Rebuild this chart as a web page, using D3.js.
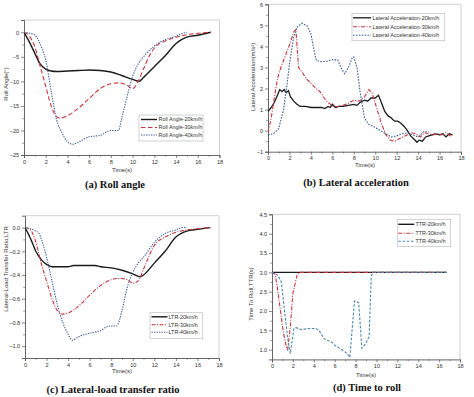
<!DOCTYPE html>
<html><head><meta charset="utf-8">
<script src="https://cdn.jsdelivr.net/npm/d3@7/dist/d3.min.js"></script>
<style>body{margin:0;background:#fff}svg{display:block}</style>
</head><body>
<script>
// ---------- DATA ----------
const xTicks = [0,2,4,6,8,10,12,14,16,18];
const legendA = ["Roll Angle-20km/h","Roll Angle-30km/h","Roll Angle-40km/h"];
const legendB = ["Lateral Acceleration-20km/h","Lateral Acceleration-30km/h","Lateral Acceleration-40km/h"];
const legendC = ["LTR-20km/h","LTR-30km/h","LTR-40km/h"];
const legendD = ["TTR-20km/h","TTR-30km/h","TTR-40km/h"];
const titles = ["(a) Roll angle","(b) Lateral acceleration","(c) Lateral-load transfer ratio","(d) Time to roll"];
const yLabels = ["Roll Angle(°)","Lateral Acceleration(m/s²)","Lateral-Load Transfer Ratio,LTR","Time To Roll,TTR(s)"];
const yTicksA = [0,-5,-10,-15,-20,-25];
const yTicksB = [-1,0,1,2,3,4,5,6];
const yTicksC = [0,-0.2,-0.4,-0.6,-0.8,-1.0];
const yTicksD = [1.0,1.5,2.0,2.5,3.0,3.5,4.0,4.5];

// (a) roll angle
const rollT20 = [0,0.5,1,1.5,2,2.5,3,4,5,6,7,8,9,10,10.6,11,12,13,14,14.5,15,16,17.2];
const roll20  = [0,-2,-4.3,-6.5,-7.5,-7.9,-8,-7.9,-7.8,-7.7,-7.8,-8.1,-8.8,-9.6,-10,-9.2,-7,-4.8,-2.3,-1.5,-1,-0.6,0];
const rollT30 = [0,0.5,1,1.5,2,2.5,3,3.3,4,5,6,7,8,8.7,9.5,10,10.5,11,11.5,12,13,14,15,16,17.2];
const roll30  = [0,-0.8,-3,-7,-11,-15,-17.2,-17.5,-17,-15.5,-13.5,-11.5,-10.5,-10.3,-10.8,-11.5,-10,-7.5,-5,-3.2,-1.8,-1,-0.5,-0.2,0];
const rollT40 = [0,0.5,1,1.3,1.6,2,2.5,3,3.5,4,4.5,5,6,7,8,8.7,9,9.5,10,10.5,11,12,13,14,14.5,15];
const roll40  = [0,-0.2,-0.5,-1.5,-3,-5.6,-12,-17.8,-20.5,-22.3,-22.8,-22.4,-21.3,-21,-20,-20,-17.5,-13,-9,-6.5,-5,-2.8,-1.5,-0.8,-0.3,0];

// (b) lateral acceleration
const accT20 = [0,0.3,0.6,0.9,1.1,1.3,1.5,1.7,1.9,2.1,2.4,2.7,3,3.5,4,4.5,5,5.3,5.6,5.8,6,6.3,6.6,7,7.5,8,8.3,8.6,9,9.3,9.6,10,10.3,10.6,10.9,11.2,11.5,11.8,12.1,12.4,12.7,13,13.3,13.6,13.9,14.1,14.4,14.7,15,15.3,15.6,16,16.3,16.6,16.9,17.2];
const acc20  = [0.9,1.1,1.35,1.7,1.95,1.85,1.95,1.8,1.9,1.6,1.4,1.25,1.15,1.15,1.1,1.1,1.1,1.05,1.15,1.1,1.25,1.1,1.15,1.15,1.2,1.25,1.2,1.35,1.45,1.4,1.55,1.55,1.68,1.3,0.9,0.7,0.6,0.45,0.45,0.35,0.2,0.0,-0.25,-0.4,-0.55,-0.45,-0.5,-0.3,-0.25,-0.2,-0.15,-0.2,-0.15,-0.3,-0.15,-0.2];
const accT30 = [0,0.3,0.6,0.9,1.2,1.5,1.8,2.1,2.4,2.6,2.85,3.15,3.6,4,4.5,4.85,5.45,6.1,6.5,7,7.5,8,8.5,9,9.4,9.7,10,10.3,10.6,11,11.4,11.8,12.2,12.6,13,13.4,13.8,14.2,14.6,15,15.4,15.8,16.2,16.6,17,17.2];
const acc30  = [-0.1,0.6,1.6,2.5,3.0,3.4,3.8,4.2,4.7,4.8,3.0,2.8,2.45,2.25,2.0,1.85,1.4,1.15,1.15,1.2,1.3,1.45,1.4,1.6,1.95,1.8,1.3,0.8,0.3,-0.2,-0.45,-0.5,-0.4,-0.3,-0.2,-0.1,-0.15,-0.3,-0.1,-0.15,-0.2,-0.15,-0.2,-0.1,-0.25,-0.2];
const accT40 = [0,0.5,1,1.45,1.75,2.05,2.4,2.7,3.15,3.65,4,4.3,4.5,4.85,5.5,6.1,6.5,6.9,7.15,7.5,7.85,8,8.3,8.6,9,9.4,10,10.5,11,11.5,12,12.5,13,13.5,14,14.5,15];
const acc40  = [-0.2,-0.15,0.1,1.0,2.1,3.35,4.45,4.9,5.1,4.97,4.6,3.8,3.35,3.27,3.3,3.38,3.35,2.9,2.7,3.0,3.45,3.5,3.0,1.8,0.6,0.3,0.15,0.0,-0.15,-0.3,-0.25,-0.15,-0.1,-0.2,-0.3,-0.05,-0.05];

// (c) LTR
const ltrT20 = [0,0.5,1,1.5,2,2.5,3,4,4.5,6,6.5,7,8,9,10,10.7,11,12,13,14,14.5,15,16,17.2];
const ltr20  = [0,-0.09,-0.2,-0.27,-0.31,-0.33,-0.33,-0.33,-0.32,-0.32,-0.32,-0.33,-0.34,-0.36,-0.39,-0.415,-0.4,-0.3,-0.2,-0.08,-0.05,-0.03,-0.015,0];
const ltrT30 = [0,0.5,1,1.5,2,2.5,3,3.5,4,5,6,7,8,8.5,9,9.5,10,10.5,11,12,13,14,15,16,17.2];
const ltr30  = [0,-0.02,-0.12,-0.3,-0.45,-0.6,-0.7,-0.73,-0.72,-0.66,-0.57,-0.49,-0.44,-0.43,-0.43,-0.44,-0.47,-0.45,-0.35,-0.15,-0.08,-0.04,-0.02,-0.01,0];
const ltrT40 = [0,0.5,1,1.3,1.7,2,2.5,3,3.5,4,4.4,5,6,7,7.5,8,8.5,9,9.5,10,10.5,11,12,13,14,14.6,15];
const ltr40  = [0,-0.01,-0.03,-0.05,-0.15,-0.25,-0.45,-0.65,-0.8,-0.9,-0.95,-0.92,-0.89,-0.87,-0.84,-0.83,-0.83,-0.7,-0.5,-0.38,-0.3,-0.25,-0.125,-0.05,-0.02,0,0];

// (d) TTR
const ttrT20 = [0,16.7];
const ttr20  = [3.0,3.0];
const ttrT30 = [0,0.3,0.5,0.8,1.1,1.4,1.5,1.76,2.0,2.4,2.6,16.7];
const ttr30  = [3.0,2.95,2.63,2.03,1.43,1.04,1.0,1.6,2.46,2.93,3.0,3.0];
const ttrT40 = [0,0.55,0.9,1.2,1.5,1.75,2.1,2.3,2.8,3.5,4.2,4.5,5,5.7,6,6.7,7.2,7.45,7.9,8.3,8.6,9.0,9.3,9.5,9.7,16.7];
const ttr40  = [3.0,2.93,2.75,2.0,1.3,0.9,1.55,1.57,1.52,1.55,1.55,1.5,1.28,1.2,1.12,1.0,0.9,0.8,2.26,2.22,1.04,1.17,1.34,2.9,3.0,3.0];

// ---------- DRAW ----------
const W = 474, H = 397;
const svg = d3.select("body").append("svg").attr("width", W).attr("height", H);
const SANS = "Liberation Sans, Arial, sans-serif";
const SERIF = "Liberation Serif, Times New Roman, serif";
const BLACK = "#1a1a1a", RED = "#c8323c", BLUE = "#3d5c94", TEAL = "#4a86ac";

function panel(o) {
  const g = svg.append("g");
  const x = d3.scaleLinear().domain([0, 18]).range([o.L, o.R]);
  const y = d3.scaleLinear().domain(o.yDom).range([o.B, o.T]);
  // frame
  g.append("line").attr("x1", o.L).attr("x2", o.R).attr("y1", o.T).attr("y2", o.T).attr("stroke", "#c4c4c4").attr("stroke-width", 0.8);
  g.append("line").attr("x1", o.R).attr("x2", o.R).attr("y1", o.T).attr("y2", o.B).attr("stroke", "#c4c4c4").attr("stroke-width", 0.8);
  // minor ticks
  const xMinor = d3.range(1, 18, 2);
  g.append("g").attr("transform", `translate(0,${o.B})`)
    .call(d3.axisBottom(x).tickValues(xMinor).tickSize(1.8).tickFormat(""))
    .call(a => a.select(".domain").remove())
    .selectAll("line").attr("stroke", "#555").attr("stroke-width", 0.6);
  const yMinor = o.yTicks.slice(0, -1).map((v, i) => (v + o.yTicks[i + 1]) / 2);
  g.append("g").attr("transform", `translate(${o.L},0)`)
    .call(d3.axisLeft(y).tickValues(yMinor).tickSize(1.8).tickFormat(""))
    .call(a => a.select(".domain").remove())
    .selectAll("line").attr("stroke", "#555").attr("stroke-width", 0.6);
  // major axes
  const xa = g.append("g").attr("transform", `translate(0,${o.B})`)
    .call(d3.axisBottom(x).tickValues(xTicks).tickSize(3).tickPadding(1.8).tickFormat(d3.format("d")));
  const ya = g.append("g").attr("transform", `translate(${o.L},0)`)
    .call(d3.axisLeft(y).tickValues(o.yTicks).tickSize(3).tickPadding(1.8).tickFormat(o.yFmt));
  [xa, ya].forEach(a => {
    a.select(".domain").attr("stroke", "#555").attr("stroke-width", 0.9);
    a.selectAll(".tick line").attr("stroke", "#555").attr("stroke-width", 0.7);
    a.selectAll("text").attr("font-family", SANS).attr("font-size", 5.6).attr("fill", "#333");
  });
  // series
  const clipId = "clip" + o.id;
  svg.append("clipPath").attr("id", clipId).append("rect")
    .attr("x", o.L).attr("y", o.T - 1).attr("width", o.R - o.L).attr("height", o.B - o.T + 1);
  o.series.forEach(s => {
    const pts = s.t.map((t, i) => [t, s.v[i]]);
    const line = d3.line().x(d => x(d[0])).y(d => y(d[1])).curve(o.curve);
    g.append("path").attr("d", line(pts)).attr("fill", "none")
      .attr("stroke", s.color).attr("stroke-width", s.w).attr("stroke-dasharray", s.dash || null)
      .attr("clip-path", `url(#${clipId})`);
  });
  // legend
  const lg = o.legend;
  g.append("rect").attr("x", lg.x0).attr("y", lg.y0).attr("width", lg.x1 - lg.x0).attr("height", lg.y1 - lg.y0)
    .attr("fill", "#fff").attr("stroke", "#bdbdbd").attr("stroke-width", 0.7);
  o.series.forEach((s, i) => {
    const yy = lg.rows[i];
    g.append("line").attr("x1", lg.lx0).attr("x2", lg.lx1).attr("y1", yy).attr("y2", yy)
      .attr("stroke", s.color).attr("stroke-width", s.w).attr("stroke-dasharray", s.dash || null);
    g.append("text").attr("x", lg.tx).attr("y", yy).attr("dy", "0.35em")
      .attr("font-family", SANS).attr("font-size", 5.4).attr("fill", "#333").text(lg.labels[i]);
  });
  // axis titles
  g.append("text").attr("x", o.xlx).attr("y", o.xly).attr("text-anchor", "middle")
    .attr("font-family", SANS).attr("font-size", 6).attr("fill", "#333").text("Time(s)");
  g.append("text").attr("transform", `translate(${o.ylx},${o.yly}) rotate(-90)`).attr("text-anchor", "middle")
    .attr("font-family", SANS).attr("font-size", 6).attr("fill", "#333").text(o.ylabel);
  // panel title
  svg.append("text").attr("x", o.tx).attr("y", o.ty).attr("text-anchor", "middle")
    .attr("font-family", SERIF).attr("font-weight", "bold").attr("font-size", 10.5).attr("fill", "#111").text(o.title);
}

panel({
  id: "a", L: 24, R: 219.5, T: 20, B: 155, yDom: [-25, 2.5], yTicks: yTicksA, yFmt: d3.format("d"),
  curve: d3.curveMonotoneX,
  series: [
    {t: rollT20, v: roll20, color: BLACK, w: 1.4},
    {t: rollT30, v: roll30, color: RED, w: 1.1, dash: "4.5,2.5"},
    {t: rollT40, v: roll40, color: BLUE, w: 1.1, dash: "1.3,1.2"}
  ],
  legend: {x0: 139, x1: 203, y0: 115, y1: 141, rows: [119.5, 127.5, 135], lx0: 141, lx1: 157, tx: 158.5, labels: legendA},
  xlx: 122, xly: 172, ylx: 8, yly: 84, ylabel: yLabels[0], tx: 115, ty: 188, title: titles[0]
});
panel({
  id: "b", L: 268, R: 461, T: 4.3, B: 151.7, yDom: [-1, 6], yTicks: yTicksB, yFmt: d3.format("d"),
  curve: d3.curveLinear,
  series: [
    {t: accT20, v: acc20, color: BLACK, w: 1.3},
    {t: accT30, v: acc30, color: RED, w: 1.1, dash: "4,1.5,1,1.5"},
    {t: accT40, v: acc40, color: BLUE, w: 1.1, dash: "1.6,1.3"}
  ],
  legend: {x0: 352, x1: 444.7, y0: 13.3, y1: 40.7, rows: [17.8, 26.8, 35.3], lx0: 353, lx1: 371, tx: 372.5, labels: legendB},
  xlx: 365, xly: 167, ylx: 255, yly: 77, ylabel: yLabels[1], tx: 356, ty: 186, title: titles[1]
});
panel({
  id: "c", L: 25, R: 219, T: 215.7, B: 358, yDom: [-1.1, 0.1], yTicks: yTicksC, yFmt: d3.format(".1f"),
  curve: d3.curveMonotoneX,
  series: [
    {t: ltrT20, v: ltr20, color: BLACK, w: 1.4},
    {t: ltrT30, v: ltr30, color: RED, w: 1.1, dash: "4,1.5,1,1.5"},
    {t: ltrT40, v: ltr40, color: BLUE, w: 1.1, dash: "1.3,1.2"}
  ],
  legend: {x0: 150, x1: 202.7, y0: 312.7, y1: 338.3, rows: [316.8, 324.8, 332.3], lx0: 151.5, lx1: 167.5, tx: 168.5, labels: legendC},
  xlx: 122, xly: 373, ylx: 8, yly: 269, ylabel: yLabels[2], tx: 113, ty: 393, title: titles[2]
});
panel({
  id: "d", L: 272, R: 460, T: 214.3, B: 359.4, yDom: [0.75, 4.5], yTicks: yTicksD, yFmt: d3.format(".1f"),
  curve: d3.curveLinear,
  series: [
    {t: ttrT20, v: ttr20, color: BLACK, w: 1.4},
    {t: ttrT30, v: ttr30, color: RED, w: 1.1, dash: "4,1.5,1,1.5"},
    {t: ttrT40, v: ttr40, color: TEAL, w: 1.1, dash: "2.6,1.6"}
  ],
  legend: {x0: 397.7, x1: 450.7, y0: 219.3, y1: 246.7, rows: [224.3, 233.3, 241.3], lx0: 398.3, lx1: 414.3, tx: 415.5, labels: legendD},
  xlx: 366, xly: 376.5, ylx: 253, yly: 294, ylabel: yLabels[3], tx: 367, ty: 391, title: titles[3]
});
</script>
</body></html>
